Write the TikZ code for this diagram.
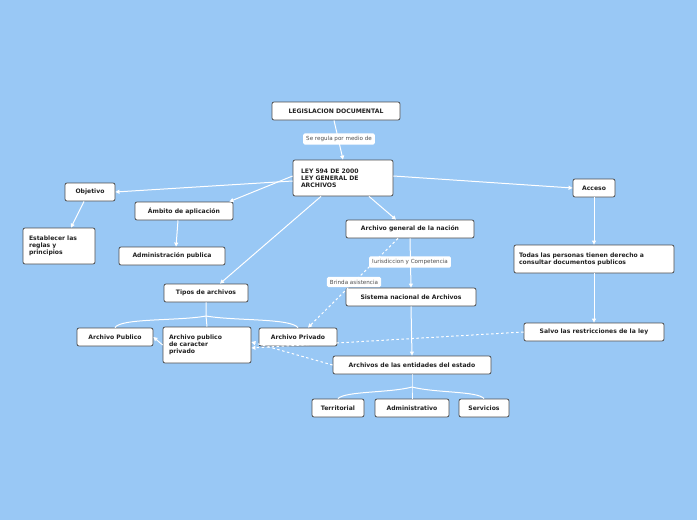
\documentclass[tikz,border=0pt]{standalone}
\usepackage{fontspec}
\setmainfont{DejaVu Sans}
\usetikzlibrary{arrows.meta}
\definecolor{bg}{HTML}{99C8F5}
\definecolor{tx}{HTML}{222222}
\begin{document}
\begin{tikzpicture}[x=1pt,y=-1pt,
 box/.style={draw=tx!80,line width=0.8pt,fill=white,rounded corners=2pt,font=\fontsize{6.1}{7}\selectfont\bfseries,text=tx,minimum height=18pt,inner xsep=5pt},
 lbl/.style={fill=white,rounded corners=1.5pt,font=\fontsize{5.6}{6.2}\selectfont,text=tx!80,inner sep=3pt},
 ar/.style={white,line width=1pt,-{Triangle[length=4pt,width=4pt]}},
 da/.style={ar,dashed,dash pattern=on 2.5pt off 2.5pt},
 ln/.style={white,line width=1pt}]
\fill[bg] (0,0) rectangle (697,520);
\node[box,minimum width=128pt] (leg) at (336,111) {LEGISLACION DOCUMENTAL};
\node[box,minimum width=100pt,minimum height=36pt,align=left,text width=84pt] (ley) at (343,178) {LEY 594 DE 2000\\LEY GENERAL DE\\ARCHIVOS};
\node[box,minimum width=50pt] (obj) at (90,192) {Objetivo};
\node[box,minimum width=72pt,minimum height=36pt,align=left,text width=60pt] (est) at (59,246) {Establecer las\\reglas y\\principios};
\node[box,minimum width=98pt] (amb) at (184,211) {Ámbito de aplicación};
\node[box,minimum width=106pt] (adm) at (172,256) {Administración publica};
\node[box,minimum width=84pt] (tip) at (206,293) {Tipos de archivos};
\node[box,minimum width=128pt] (agn) at (410,229) {Archivo general de la nación};
\node[box,minimum width=130pt] (sna) at (411,297) {Sistema nacional de Archivos};
\node[box,minimum width=42pt] (acc) at (594,188) {Acceso};
\node[box,minimum width=160pt,minimum height=28pt,align=left,text width=150pt] (tod) at (594,259) {Todas las personas tienen derecho a\\consultar documentos publicos};
\node[box,minimum width=140pt] (sal) at (594,332) {Salvo las restricciones de la ley};
\node[box,minimum width=76pt] (apu) at (115,337) {Archivo Publico};
\node[box,minimum width=88pt,minimum height=36pt,align=left,text width=76pt] (apc) at (207,345) {Archivo publico\\de caracter\\privado};
\node[box,minimum width=78pt] (apr) at (298,337) {Archivo Privado};
\node[box,minimum width=158pt] (ent) at (412,365) {Archivos de las entidades del estado};
\node[box,minimum width=52pt] (ter) at (338,408) {Territorial};
\node[box,minimum width=74pt] (ad2) at (412,408) {Administrativo};
\node[box,minimum width=50pt] (ser) at (484,408) {Servicios};
\draw[ar] ([xshift=-2pt]leg.south) -- (ley.north);
\node[lbl] (l1) at (339,139) {Se regula por medio de};
\draw[ar] ([yshift=-3pt]ley.west) -- (obj.east);
\draw[ar] ([xshift=-6pt]obj.south) -- ([xshift=12pt]est.north);
\draw[ar] ([yshift=2pt]ley.west) -- ([xshift=-4pt]amb.north east);
\draw[ar] ([xshift=-6pt]amb.south) -- ([xshift=4pt]adm.north);
\draw[ar] ([xshift=-22pt]ley.south) -- ([xshift=14pt]tip.north);
\draw[ar] ([xshift=26pt]ley.south) -- ([xshift=-14pt]agn.north);
\draw[ar] ([yshift=2pt]ley.east) -- (acc.west);
\draw[ar] (acc.south) -- (tod.north);
\draw[ar] (tod.south) -- (sal.north);
\draw[ar] (agn.south) -- (sna.north);
\node[lbl] (l2) at (410,262) {Jurisdiccion y Competencia};
\draw[da] ([xshift=-12pt]agn.south) -- ([xshift=10pt]apr.north);
\node[lbl] (l3) at (354,282) {Brinda asistencia};
\draw[ar] (sna.south) -- (ent.north);
\draw[da] (sal.west) -- ([yshift=-3pt]apc.east);
\draw[da] (ent.west) -- ([yshift=3pt]apc.east);
\draw[ar] (apc.west) -- (apu.east);
\coordinate (t0) at (206,316);
\draw[ln] (tip.south) -- (t0) -- (apc.north);
\draw[ln] (t0) .. controls (180,321) and (120,318) .. (apu.north);
\draw[ln] (t0) .. controls (235,321) and (290,318) .. (apr.north);
\coordinate (e0) at (412,387);
\draw[ln] (ent.south) -- (e0) -- (ad2.north);
\draw[ln] (e0) .. controls (390,393) and (345,391) .. (ter.north);
\draw[ln] (e0) .. controls (435,393) and (478,391) .. (ser.north);
\end{tikzpicture}
\end{document}
